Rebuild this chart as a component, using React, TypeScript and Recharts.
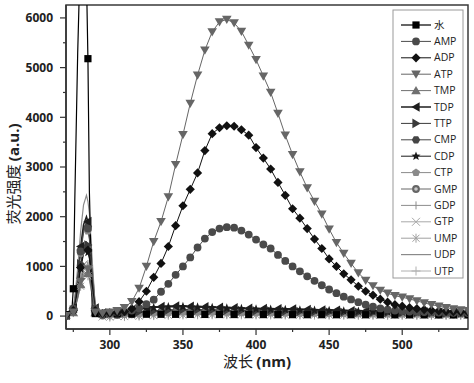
import React from 'react';
import { LineChart, Line, XAxis, YAxis, ReferenceArea } from 'recharts';

// ---- wavelengths (nm) ----
const peakNm = [270, 272, 274, 275, 276, 278, 280, 282, 284, 285, 286, 288, 290];
const bandFineNm = [295, 300, 305, 310, 315, 320, 325, 330, 335, 340, 345, 350, 355, 360, 365, 370, 375, 380, 385, 390, 395, 400, 405, 410, 415, 420, 425, 430, 435, 440, 445, 450, 455, 460, 465, 470, 475, 480, 485, 490, 495, 500, 505, 510, 515, 520, 525, 530, 535, 540, 545];
const bandOddNm = [295, 305, 315, 325, 335, 345, 355, 365, 375, 385, 395, 405, 415, 425, 435, 445, 455, 465, 475, 485, 495, 505, 515, 525, 535, 545];
const bandEvenNm = [300, 310, 320, 330, 340, 350, 360, 370, 380, 390, 400, 410, 420, 430, 440, 450, 460, 470, 480, 490, 500, 510, 520, 530, 540];

// ---- tick values ----
const xTicks = [275, 300, 325, 350, 375, 400, 425, 450, 475, 500, 525];
const yTicks = [0, 500, 1000, 1500, 2000, 2500, 3000, 3500, 4000, 4500, 5000, 5500, 6000];

// ---- series values: peak region (peakNm) ----
const waterPeak = [30, 40, 100, 550, 2300, 5300, 7500, 8600, 6800, 5180, 2500, 100, 50];
const ampPeak = [10, 30, 70, 150, 280, 740, 1300, 1700, 1850, 1760, 1570, 830, 150];
const adpPeak = [20, 30, 60, 110, 210, 560, 980, 1290, 1400, 1330, 1190, 630, 110];
const atpPeak = [10, 20, 40, 80, 150, 400, 700, 920, 1000, 950, 850, 450, 80];
const tmpPeak = [20, 30, 40, 70, 140, 360, 630, 830, 900, 860, 770, 400, 70];
const tdpPeak = [20, 40, 80, 160, 300, 800, 1400, 1840, 2000, 1900, 1700, 900, 160];
const ttpPeak = [20, 40, 60, 120, 230, 600, 1050, 1380, 1500, 1430, 1280, 680, 120];
const cmpPeak = [0, 30, 70, 150, 280, 760, 1330, 1750, 1900, 1800, 1620, 860, 150];
const cdpPeak = [10, 30, 50, 110, 200, 540, 950, 1240, 1350, 1280, 1150, 610, 110];
const ctpPeak = [30, 50, 80, 150, 270, 720, 1260, 1660, 1800, 1710, 1530, 810, 150];
const gmpPeak = [0, 30, 60, 120, 220, 580, 1020, 1330, 1450, 1380, 1230, 650, 120];
const gdpPeak = [30, 40, 60, 90, 170, 440, 770, 1010, 1100, 1050, 940, 500, 90];
const gtpPeak = [0, 20, 40, 80, 140, 380, 670, 870, 950, 900, 810, 430, 80];
const umpPeak = [10, 20, 40, 70, 130, 340, 600, 780, 850, 810, 720, 380, 70];
const udpPeak = [10, 30, 90, 190, 360, 970, 1700, 2240, 2430, 2310, 2070, 1090, 190];
const utpPeak = [20, 30, 50, 80, 160, 420, 740, 970, 1050, 1000, 890, 470, 80];

// ---- series values: emission band ----
const atpBand = [60, 80, 110, 170, 290, 560, 1000, 1500, 1900, 2400, 3050, 3650, 4280, 4850, 5350, 5720, 5920, 5970, 5900, 5730, 5450, 5160, 4830, 4500, 4080, 3640, 3250, 2900, 2580, 2310, 2050, 1750, 1480, 1260, 1060, 870, 720, 610, 520, 460, 410, 380, 345, 305, 265, 230, 200, 170, 145, 125, 110];
const adpBand = [50, 60, 70, 90, 150, 290, 500, 780, 1060, 1400, 1820, 2220, 2550, 2880, 3330, 3670, 3790, 3830, 3820, 3750, 3640, 3390, 3180, 2960, 2690, 2430, 2160, 1970, 1760, 1550, 1360, 1150, 1000, 850, 730, 600, 500, 420, 340, 280, 230, 200, 170, 150, 130, 115, 105, 95, 90, 85, 80];
const ampBand = [50, 60, 70, 80, 110, 160, 240, 330, 490, 650, 830, 1000, 1180, 1380, 1560, 1690, 1760, 1790, 1780, 1720, 1640, 1540, 1440, 1360, 1230, 1110, 1000, 900, 800, 710, 620, 535, 460, 390, 335, 280, 230, 190, 155, 130, 110, 100, 90, 85, 80, 75, 70, 68, 65, 62, 60];
const waterBand = [50, 45, 40, 38, 36, 35, 34, 33, 32, 31, 30, 30, 29, 29, 28, 28, 27, 27, 26, 26, 25, 25, 25, 24, 24, 24];
const tdpBand = [60, 80, 120, 160, 190, 200, 195, 185, 175, 165, 155, 150, 145, 140, 130, 120, 115, 105, 100, 95, 90, 85, 80, 75, 70, 70];
const cdpBand = [70, 100, 140, 170, 185, 190, 180, 170, 160, 150, 140, 135, 130, 120, 115, 110, 100, 95, 90, 85, 80, 75, 70, 65, 60];
const tmpBand = [40, 50, 70, 90, 105, 115, 120, 118, 112, 105, 100, 95, 90, 85, 80, 75, 72, 68, 65, 62, 60, 58, 55, 52, 50, 50];
const ttpBand = [50, 65, 85, 105, 120, 130, 128, 122, 115, 110, 105, 100, 95, 90, 85, 82, 78, 75, 72, 70, 68, 65, 62, 60, 58];
const cmpBand = [30, 40, 55, 70, 85, 95, 100, 98, 95, 90, 85, 80, 76, 72, 68, 64, 60, 57, 55, 52, 50, 48, 46, 44, 42, 40];
const ctpBand = [20, 30, 45, 60, 72, 80, 82, 80, 76, 72, 68, 64, 60, 57, 54, 51, 48, 46, 44, 42, 40, 38, 36, 35, 34];
const gmpBand = [10, 20, 35, 50, 60, 68, 72, 70, 67, 63, 60, 57, 54, 51, 48, 46, 44, 42, 40, 38, 36, 35, 34, 32, 31, 30];
const gdpBand = [0, 10, 20, 30, 40, 46, 50, 50, 48, 46, 44, 42, 40, 38, 36, 34, 32, 30, 29, 28, 27, 26, 25, 24, 23];
const gtpBand = [-10, 0, 10, 20, 28, 34, 38, 38, 36, 35, 33, 31, 30, 28, 27, 26, 25, 24, 23, 22, 21, 20, 20, 19, 18, 18];
const umpBand = [-20, -10, 0, 10, 18, 24, 27, 28, 27, 26, 25, 24, 23, 22, 21, 20, 19, 18, 17, 16, 16, 15, 15, 14, 14];
const udpBand = [20, 30, 45, 60, 70, 76, 78, 76, 73, 70, 67, 64, 61, 58, 56, 54, 52, 50, 48, 47, 46, 45, 44, 43, 42, 41];
const utpBand = [0, 5, 15, 25, 32, 38, 40, 40, 38, 37, 35, 34, 33, 32, 31, 30, 29, 28, 27, 26, 25, 25, 24, 24, 23];

type Shape = 'square' | 'circle' | 'diamond' | 'triDown' | 'triUp' | 'triLeft' | 'triRight' | 'hexagon' | 'star' | 'pentagon' | 'ring' | 'vbar' | 'cross' | 'asterisk' | 'plus' | 'none';

interface Series { name: string; color: string; shape: Shape; width: number; peak: number[]; band: number[]; bandNm: number[]; }

const legendOrder = ['水', 'AMP', 'ADP', 'ATP', 'TMP', 'TDP', 'TTP', 'CMP', 'CDP', 'CTP', 'GMP', 'GDP', 'GTP', 'UMP', 'UDP', 'UTP'];

const seriesList: Series[] = [
  { name: '水', color: '#000000', shape: 'square', width: 1.2, peak: waterPeak, band: waterBand, bandNm: bandOddNm },
  { name: 'AMP', color: '#4a4a4a', shape: 'circle', width: 1, peak: ampPeak, band: ampBand, bandNm: bandFineNm },
  { name: 'ADP', color: '#111111', shape: 'diamond', width: 1, peak: adpPeak, band: adpBand, bandNm: bandFineNm },
  { name: 'ATP', color: '#666666', shape: 'triDown', width: 1, peak: atpPeak, band: atpBand, bandNm: bandFineNm },
  { name: 'TMP', color: '#707070', shape: 'triUp', width: 1, peak: tmpPeak, band: tmpBand, bandNm: bandOddNm },
  { name: 'TDP', color: '#1e1e1e', shape: 'triLeft', width: 1.5, peak: tdpPeak, band: tdpBand, bandNm: bandOddNm },
  { name: 'TTP', color: '#3a3a3a', shape: 'triRight', width: 1, peak: ttpPeak, band: ttpBand, bandNm: bandEvenNm },
  { name: 'CMP', color: '#454545', shape: 'hexagon', width: 1, peak: cmpPeak, band: cmpBand, bandNm: bandOddNm },
  { name: 'CDP', color: '#1a1a1a', shape: 'star', width: 1, peak: cdpPeak, band: cdpBand, bandNm: bandEvenNm },
  { name: 'CTP', color: '#8a8a8a', shape: 'pentagon', width: 1, peak: ctpPeak, band: ctpBand, bandNm: bandEvenNm },
  { name: 'GMP', color: '#666666', shape: 'ring', width: 1, peak: gmpPeak, band: gmpBand, bandNm: bandOddNm },
  { name: 'GDP', color: '#8c8c8c', shape: 'vbar', width: 1, peak: gdpPeak, band: gdpBand, bandNm: bandEvenNm },
  { name: 'GTP', color: '#a8a8a8', shape: 'cross', width: 1, peak: gtpPeak, band: gtpBand, bandNm: bandOddNm },
  { name: 'UMP', color: '#a0a0a0', shape: 'asterisk', width: 1, peak: umpPeak, band: umpBand, bandNm: bandEvenNm },
  { name: 'UDP', color: '#8a8a8a', shape: 'none', width: 1.2, peak: udpPeak, band: udpBand, bandNm: bandOddNm },
  { name: 'UTP', color: '#b0b0b0', shape: 'plus', width: 1, peak: utpPeak, band: utpBand, bandNm: bandEvenNm },
];

const drawOrder = ['UMP', 'GTP', 'UTP', 'GDP', 'GMP', 'CTP', 'CMP', 'TTP', 'TMP', 'CDP', 'TDP', 'UDP', '水', 'AMP', 'ADP', 'ATP'];

const buildData = (s: Series) => [
  ...peakNm.map((nm, i) => ({ nm, v: s.peak[i] })),
  ...s.bandNm.map((nm, i) => ({ nm, v: s.band[i] })),
];

const poly = (cx: number, cy: number, r: number, n: number, rot: number) =>
  Array.from({ length: n }, (_, k) => {
    const a = rot + (k * 2 * Math.PI) / n;
    return `${cx + r * Math.cos(a)},${cy + r * Math.sin(a)}`;
  }).join(' ');

const starPts = (cx: number, cy: number, ro: number, ri: number) =>
  Array.from({ length: 10 }, (_, k) => {
    const a = -Math.PI / 2 + (k * Math.PI) / 5;
    const r = k % 2 === 0 ? ro : ri;
    return `${cx + r * Math.cos(a)},${cy + r * Math.sin(a)}`;
  }).join(' ');

function Mark({ shape, cx, cy, color }: { shape: Shape; cx: number; cy: number; color: string }) {
  switch (shape) {
    case 'square':
      return <rect x={cx - 3.6} y={cy - 3.6} width={7.2} height={7.2} fill={color} />;
    case 'circle':
      return <circle cx={cx} cy={cy} r={3.9} fill={color} />;
    case 'diamond':
      return <polygon points={`${cx},${cy - 4.6} ${cx + 4.6},${cy} ${cx},${cy + 4.6} ${cx - 4.6},${cy}`} fill={color} />;
    case 'triDown':
      return <polygon points={`${cx - 4.8},${cy - 3.6} ${cx + 4.8},${cy - 3.6} ${cx},${cy + 4.6}`} fill={color} />;
    case 'triUp':
      return <polygon points={`${cx - 4.8},${cy + 3.6} ${cx + 4.8},${cy + 3.6} ${cx},${cy - 4.6}`} fill={color} />;
    case 'triLeft':
      return <polygon points={`${cx + 3.6},${cy - 4.8} ${cx + 3.6},${cy + 4.8} ${cx - 4.6},${cy}`} fill={color} />;
    case 'triRight':
      return <polygon points={`${cx - 3.6},${cy - 4.8} ${cx - 3.6},${cy + 4.8} ${cx + 4.6},${cy}`} fill={color} />;
    case 'hexagon':
      return <polygon points={poly(cx, cy, 4.2, 6, 0)} fill={color} />;
    case 'star':
      return <polygon points={starPts(cx, cy, 4.8, 2)} fill={color} />;
    case 'pentagon':
      return <polygon points={poly(cx, cy, 4.2, 5, -Math.PI / 2)} fill={color} />;
    case 'ring':
      return (
        <g>
          <circle cx={cx} cy={cy} r={3.9} fill={color} />
          <circle cx={cx} cy={cy} r={1.8} fill="#c8c8c8" />
        </g>
      );
    case 'vbar':
      return <line x1={cx} y1={cy - 4} x2={cx} y2={cy + 4} stroke={color} strokeWidth={1} />;
    case 'cross':
      return (
        <g stroke={color} strokeWidth={1}>
          <line x1={cx - 4} y1={cy - 4} x2={cx + 4} y2={cy + 4} />
          <line x1={cx - 4} y1={cy + 4} x2={cx + 4} y2={cy - 4} />
        </g>
      );
    case 'asterisk':
      return (
        <g stroke={color} strokeWidth={1}>
          <line x1={cx - 3.5} y1={cy - 3.5} x2={cx + 3.5} y2={cy + 3.5} />
          <line x1={cx - 3.5} y1={cy + 3.5} x2={cx + 3.5} y2={cy - 3.5} />
          <line x1={cx} y1={cy - 4.5} x2={cx} y2={cy + 4.5} />
        </g>
      );
    case 'plus':
      return (
        <g stroke={color} strokeWidth={1}>
          <line x1={cx} y1={cy - 4.5} x2={cx} y2={cy + 4.5} />
          <line x1={cx - 4.5} y1={cy} x2={cx + 4.5} y2={cy} />
        </g>
      );
    default:
      return null;
  }
}

const makeDot = (s: Series) => (p: any) => {
  const key = `${s.name}-dot-${p.index}`;
  if (s.shape === 'none' || p.cx == null || p.cy == null || p.payload == null || p.payload.nm % 5 !== 0) {
    return <g key={key} />;
  }
  return (
    <g key={key}>
      <Mark shape={s.shape} cx={p.cx} cy={p.cy} color={s.color} />
    </g>
  );
};

const FONT = "'Open Sans', 'Noto Sans CJK SC', sans-serif";

const XTick = (p: any) => {
  const v = p.payload.value;
  const major = v % 50 === 0;
  return (
    <g>
      <line x1={p.x} y1={p.y - 11} x2={p.x} y2={p.y - (major ? 5 : 8)} stroke="#333" strokeWidth={1.2} />
      {major && (
        <text x={p.x} y={p.y} dy="0.75em" textAnchor="middle" fontFamily={FONT} fontWeight="bold" fontSize={12} fill="#222">
          {v}
        </text>
      )}
    </g>
  );
};

const YTick = (p: any) => {
  const v = p.payload.value;
  const major = v % 1000 === 0;
  return (
    <g>
      <line x1={p.x + (major ? 7 : 10)} y1={p.y} x2={p.x + 13} y2={p.y} stroke="#333" strokeWidth={1.2} />
      {major && (
        <text x={p.x} y={p.y} dy="0.36em" textAnchor="end" fontFamily={FONT} fontWeight="bold" fontSize={12} fill="#222">
          {v}
        </text>
      )}
    </g>
  );
};

export default function App() {
  const byName: Record<string, Series> = {};
  seriesList.forEach((s) => (byName[s.name] = s));
  return (
    <div style={{ position: 'absolute', left: 0, top: 0, width: 474, height: 383, background: '#fff' }}>
      <LineChart width={474} height={383} margin={{ top: 5, right: 6, bottom: 0, left: 0 }}>
        <XAxis
          type="number"
          dataKey="nm"
          domain={[270, 545]}
          allowDataOverflow
          ticks={xTicks}
          interval={0}
          tick={XTick}
          tickLine={false}
          tickSize={6}
          tickMargin={5}
          height={54}
          axisLine={{ stroke: '#333', strokeWidth: 1.5 }}
        />
        <YAxis
          type="number"
          domain={[-260, 6260]}
          allowDataOverflow
          ticks={yTicks}
          interval={0}
          tick={YTick}
          tickLine={false}
          tickSize={6}
          tickMargin={7}
          width={66}
          axisLine={{ stroke: '#333', strokeWidth: 1.5 }}
        />
        <ReferenceArea x1={270} x2={545} y1={-260} y2={6260} fill="none" stroke="#3a3a3a" strokeWidth={1.5} />
        {drawOrder.map((n) => {
          const s = byName[n];
          return (
            <Line
              key={n}
              data={buildData(s)}
              dataKey="v"
              name={n}
              type="linear"
              stroke={s.color}
              strokeWidth={s.width}
              dot={makeDot(s)}
              activeDot={false}
              isAnimationActive={false}
            />
          );
        })}
      </LineChart>
      <svg width={474} height={383} style={{ position: 'absolute', left: 0, top: 0, pointerEvents: 'none' }}>
        <rect x={393} y={10} width={70} height={268} fill="#fff" stroke="#9a9a9a" strokeWidth={1} />
        {legendOrder.map((n, i) => {
          const s = byName[n];
          const y = 25 + i * 16.4;
          return (
            <g key={n}>
              <line x1={401} y1={y} x2={431} y2={y} stroke={s.color} strokeWidth={s.width} />
              <Mark shape={s.shape} cx={416} cy={y} color={s.color} />
              <text x={434} y={y} dy="0.35em" fontFamily={FONT} fontSize={10.5} fill="#222">
                {n}
              </text>
            </g>
          );
        })}
        <text x={257} y={367} textAnchor="middle" fontFamily={FONT} fontSize={15} fill="#222">
          <tspan fontFamily="'Noto Sans CJK SC', sans-serif">波长 </tspan>
          <tspan fontWeight="bold">(nm)</tspan>
        </text>
        <text x={19} y={174} textAnchor="middle" fontFamily={FONT} fontSize={15} fill="#222" transform="rotate(-90 19 174)">
          <tspan fontFamily="'Noto Sans CJK SC', sans-serif">荧光强度 </tspan>
          <tspan fontWeight="bold">(a.u.)</tspan>
        </text>
      </svg>
    </div>
  );
}
